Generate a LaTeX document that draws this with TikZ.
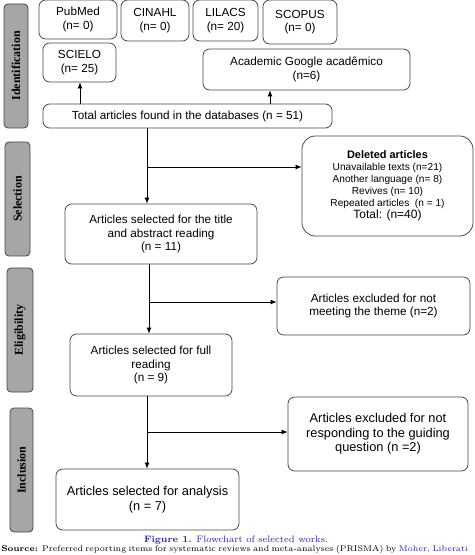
\documentclass[tikz,border=0pt]{standalone}
\usepackage{fontspec}
\usepackage{xcolor}
\usepackage{tikz}
\usetikzlibrary{positioning,arrows.meta,calc}
\newfontfamily\arialfont{Liberation Sans}
\newfontfamily\timesfont{Liberation Serif}
\definecolor{stagegray}{RGB}{166,166,166}
\definecolor{edgegray}{RGB}{70,70,70}
\definecolor{capblue}{RGB}{40,40,170}
\newdimen\pxu \pxu=0.75pt
\tikzset{
  box/.style  ={draw=edgegray, fill=white, rounded corners=5pt, align=center,
                font=\arialfont\fontsize{8.8}{10}\selectfont, inner sep=2pt, line width=0.6pt},
  stage/.style={draw=edgegray, fill=stagegray, rounded corners=3pt, rotate=90,
                font=\timesfont\bfseries\fontsize{9}{10}\selectfont, inner sep=0pt, line width=0.6pt},
  ar/.style   ={-{Latex[length=1.6mm,width=1.3mm]}, draw=black, line width=0.6pt},
}

\begin{document}
\begin{tikzpicture}[x=0.75pt,y=-0.75pt]
\useasboundingbox (0,0) rectangle (474,555);
% stages
\node[stage,minimum width=124\pxu,minimum height=24\pxu] (idn) at (16,66) {Identification};
\node[stage,minimum width=114\pxu,minimum height=25\pxu] (slc) at (17.5,199) {Selection};
\node[stage,minimum width=124\pxu,minimum height=26\pxu] (elg) at (20,330) {Eligibility};
\node[stage,minimum width=124\pxu,minimum height=23\pxu] (inc) at (21.5,470) {Inclusion};

% databases
\node[box,minimum width=78\pxu,minimum height=39\pxu] (pub) at (78,19.5) {PubMed\\(n= 0)};
\node[box,minimum width=68\pxu,minimum height=41\pxu] (cin) at (155,20.5) {CINAHL\\(n= 0)};
\node[box,minimum width=65\pxu,minimum height=41\pxu] (lil) at (225.5,20.5) {LILACS\\(n= 20)};
\node[box,minimum width=74\pxu,minimum height=44\pxu] (sco) at (300,22) {SCOPUS\\(n= 0)};
\node[box,minimum width=73\pxu,minimum height=39\pxu] (sci) at (79.5,62.5) {SCIELO\\(n= 25)};
\node[box,minimum width=207\pxu,minimum height=41\pxu] (goo) at (306.5,69.5) {Academic Google acadêmico\\(n=6)};
\node[box,minimum width=289\pxu,minimum height=24\pxu] (tot) at (187.5,116) {Total articles found in the databases (n = 51)};

% screening
\node[box,minimum width=171\pxu,minimum height=100\pxu,rounded corners=10pt,
      font=\arialfont\fontsize{7.6}{9}\selectfont] (del) at (387.5,186)
  {{\fontsize{8.2}{9}\selectfont\bfseries Deleted articles}\\Unavailable texts (n=21)\\Another language (n= 8)\\Revives (n= 10)\\Repeated articles\ \ (n = 1)\\{\fontsize{9}{10}\selectfont Total: (n=40)}};
\node[box,minimum width=192\pxu,minimum height=60\pxu] (sel) at (161,234) {Articles selected for the title\\and abstract reading\\(n = 11)};
\node[box,minimum width=193\pxu,minimum height=58\pxu] (exc1) at (373.5,306) {Articles excluded for not\\meeting the theme (n=2)};
\node[box,minimum width=162\pxu,minimum height=62\pxu] (full) at (151,365) {Articles selected for full\\reading\\(n = 9)};
\node[box,minimum width=180\pxu,minimum height=74\pxu,font=\arialfont\fontsize{9.6}{11}\selectfont] (exc2) at (378,434) {Articles excluded for not\\responding to the guiding\\question (n =2)};
\node[box,minimum width=183\pxu,minimum height=61\pxu,font=\arialfont\fontsize{9.6}{11}\selectfont] (ana) at (147.5,499.5) {Articles selected for analysis\\(n = 7)};

% connectors
\coordinate (g1) at (80,0);
\coordinate (g2) at (270,0);
\draw[ar] (tot.north -| g1) -- (sci.south -| g1);
\draw[ar] (tot.north -| g2) -- (goo.south -| g2);
\coordinate (j1) at (147,167);
\draw[ar] (tot.south -| j1) -- (sel.north -| j1);
\draw[ar] (j1) -- (j1 -| del.west);
\coordinate (j2) at (149,302);
\draw[ar] (sel.south -| j2) -- (full.north -| j2);
\draw[ar] (j2) -- (j2 -| exc1.west);
\coordinate (j3) at (147,432);
\draw[ar] (full.south -| j3) -- (ana.north -| j3);
\draw[ar] (j3) -- (j3 -| exc2.west);

% caption
\node[font=\fontsize{7}{8}\selectfont,text=capblue] (cap) at (236,540) {\textbf{Figure 1.} Flowchart of selected works.};
\node[anchor=west,inner sep=0pt,font=\fontsize{6.2}{7}\selectfont] (src) at (1,549.5)
  {\makebox[350pt][s]{\textbf{Source:} Preferred reporting items for systematic reviews and meta-analyses (PRISMA) by \textcolor{capblue}{Moher, Liberati}}};
\end{tikzpicture}
\end{document}
